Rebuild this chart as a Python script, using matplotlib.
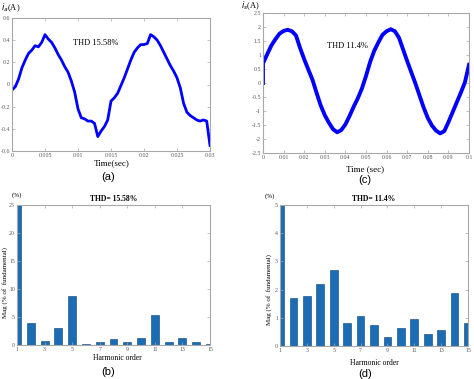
import numpy as np
import matplotlib
matplotlib.use("Agg")
import matplotlib.pyplot as plt

# ---------------- data ----------------
# (a) grid-side current waveform, values read at 0.5 ms steps
ta = [i * 0.0005 for i in range(61)]
ia = [-0.05, -0.02, 0.05, 0.15, 0.22, 0.28, 0.31, 0.35, 0.34, 0.38,
      0.45, 0.41, 0.38, 0.33, 0.27, 0.22, 0.16, 0.11, 0.03, -0.07,
      -0.22, -0.30, -0.31, -0.33, -0.33, -0.35, -0.47, -0.42, -0.38, -0.32,
      -0.15, -0.12, -0.08, -0.01, 0.06, 0.14, 0.22, 0.29, 0.33, 0.36,
      0.36, 0.37, 0.45, 0.43, 0.40, 0.35, 0.29, 0.23, 0.17, 0.12,
      0.06, -0.03, -0.17, -0.25, -0.28, -0.30, -0.32, -0.33, -0.32, -0.33,
      -0.55]

# (c) source current waveform, values read at 2 ms steps
tc = [0.0] + [i * 0.002 for i in range(51)]
ic = [0.0, 0.70, 1.02, 1.33, 1.56, 1.76, 1.86, 1.90, 1.85, 1.70, 1.25,
      0.85, 0.48, 0.12, -0.35, -0.80, -1.15, -1.42, -1.65, -1.76, -1.68,
      -1.48, -1.18, -0.85, -0.55, -0.20, 0.25, 0.75, 1.15, 1.45, 1.72,
      1.85, 1.92, 1.85, 1.62, 1.20, 0.78, 0.38, -0.02, -0.45, -0.88,
      -1.25, -1.52, -1.70, -1.80, -1.72, -1.40, -1.05, -0.70, -0.35, 0.02,
      0.65]

# harmonic spectra (% of fundamental)
orders = list(range(1, 16))
mag_b = [100, 4.0, 0.8, 3.0, 8.7, 0.2, 0.5, 1.05, 0.6, 1.2, 5.4, 0.6, 1.25, 0.5, 0.15]
mag_d = [100, 1.70, 1.77, 2.20, 2.70, 0.83, 1.08, 0.75, 0.32, 0.63, 0.95, 0.42, 0.55, 1.88, 0.80]

thd_b = "15.58%"
thd_d = "11.4%"

# ---------------- figure ----------------
W, H = 474, 379
fig = plt.figure(figsize=(W / 100, H / 100), dpi=100)
fig.patch.set_facecolor("white")

SERIF = "Liberation Serif"
SANS = "Liberation Sans"
GREY = "#a8a8a8"
TICKC = "#555555"


def px_axes(l, t, r, b):
    return fig.add_axes([l / W, 1 - b / H, (r - l) / W, (b - t) / H])


def style(ax):
    for s in ax.spines.values():
        s.set_color(GREY)
        s.set_linewidth(0.8)
    ax.tick_params(direction="in", length=2, width=0.5, color=GREY,
                   labelsize=4.2, labelcolor=TICKC, top=True, right=True, pad=1.5)
    for lab in ax.get_xticklabels() + ax.get_yticklabels():
        lab.set_fontfamily(SERIF)


def ftext(x, y, s, **kw):
    fig.text(x / W, 1 - y / H, s, **kw)


# (a)
ax = px_axes(12, 18, 210, 151)
ax.plot(ta, ia, color="#0000ff", lw=2.0)
ax.set_xlim(0, 0.03)
ax.set_ylim(-0.6, 0.6)
ax.set_xticks([0, 0.005, 0.01, 0.015, 0.02, 0.025, 0.03])
ax.set_xticklabels(["0", "0.005", "0.01", "0.015", "0.02", "0.025", "0.03"])
ax.set_yticks([-0.6, -0.4, -0.2, 0, 0.2, 0.4, 0.6])
ax.set_yticklabels(["-0.6", "-0.4", "-0.2", "0", "0.2", "0.4", "0.6"])
style(ax)
ax.text(0.0092, 0.375, "THD 15.58%", fontsize=6, family=SERIF, va="center")
ftext(1, 8, r"$i_a$(A)", fontsize=6, family=SERIF, va="center", ha="left")
ftext(112, 163.5, "Time(sec)", fontsize=6.5, family=SERIF, ha="center", va="center")
ftext(108, 177, "(a)", fontsize=8, family=SANS, ha="center", va="center")

# (c)
ax = px_axes(263, 13, 469, 153)
ax.plot(tc, ic, color="#0000ff", lw=2.8)
ax.set_xlim(0, 0.1)
ax.set_ylim(-2.5, 2.5)
ax.set_xticks([0, 0.01, 0.02, 0.03, 0.04, 0.05, 0.06, 0.07, 0.08, 0.09, 0.1])
ax.set_xticklabels(["0", "0.01", "0.02", "0.03", "0.04", "0.05", "0.06",
                    "0.07", "0.08", "0.09", "0.1"])
ax.set_yticks([-2.5, -2, -1.5, -1, -0.5, 0, 0.5, 1, 1.5, 2, 2.5])
ax.set_yticklabels(["-2.5", "-2", "-1.5", "-1", "-0.5", "0", "0.5", "1",
                    "1.5", "2", "2.5"])
style(ax)
ax.text(0.031, 1.32, "THD 11.4%", fontsize=6, family=SERIF, va="center")
ftext(241, 6, r"$i_s$(A)", fontsize=6, family=SERIF, va="center", ha="left")
ftext(365, 169, "Time (sec)", fontsize=6.5, family=SERIF, ha="center", va="center")
ftext(365, 180, "(c)", fontsize=8, family=SANS, ha="center", va="center")

BAR = "#1a6cb5"
EDGE = "#0d3f70"

# (b)
ax = px_axes(17, 205, 210, 345)
ax.bar(orders, mag_b, width=0.58, color=BAR, edgecolor=EDGE, linewidth=0.4)
ax.set_xlim(1, 15)
ax.set_ylim(0, 25)
ax.set_xticks([1, 3, 5, 7, 9, 11, 13, 15])
ax.set_yticks([0, 5, 10, 15, 20, 25])
style(ax)
ax.set_title("THD= " + thd_b, fontsize=5.5, family=SERIF, fontweight="bold", pad=3)
ftext(17, 195, "(%)", fontsize=5, family=SERIF, ha="center", va="center")
ftext(5, 283, "Mag (% of  fundamental)", fontsize=5, family=SERIF, ha="center",
      va="center", rotation=90)
ftext(117, 358, "Harmonic order", fontsize=5.5, family=SERIF, ha="center", va="center")
ftext(108, 372, "(b)", fontsize=8, family=SANS, ha="center", va="center")

# (d)
ax = px_axes(280, 205, 468, 346)
ax.bar(orders, mag_d, width=0.58, color=BAR, edgecolor=EDGE, linewidth=0.4)
ax.set_xlim(1, 15)
ax.set_ylim(0, 5)
ax.set_xticks([1, 3, 5, 7, 9, 11, 13, 15])
ax.set_yticks([0, 1, 2, 3, 4, 5])
style(ax)
ax.set_title("THD= " + thd_d, fontsize=5.5, family=SERIF, fontweight="bold", pad=3)
ftext(270, 196, "(%)", fontsize=5, family=SERIF, ha="center", va="center")
ftext(269, 290, "Mag (% of  fundamental)", fontsize=5, family=SERIF, ha="center",
      va="center", rotation=90)
ftext(374, 363, "Harmonic order", fontsize=5.5, family=SERIF, ha="center", va="center")
ftext(365, 374, "(d)", fontsize=8, family=SANS, ha="center", va="center")

fig.savefig("out.png", dpi=100, facecolor="white")
